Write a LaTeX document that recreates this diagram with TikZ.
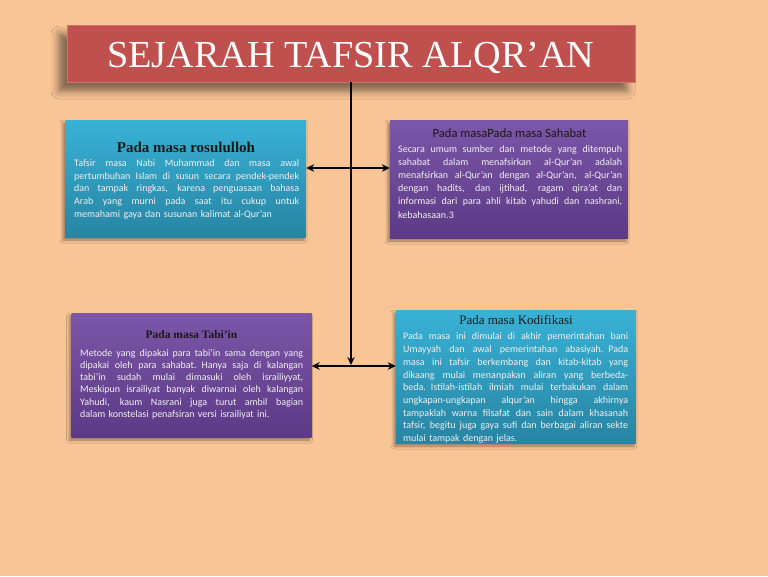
\documentclass[tikz,border=0pt]{standalone}
\usepackage{fontspec}
\setmainfont{Liberation Serif}
\newfontfamily\bodyfont{Carlito}
\usetikzlibrary{shadows.blur,arrows.meta}
\definecolor{bg}{RGB}{250,197,150}
\definecolor{titlered}{RGB}{192,80,77}
\definecolor{bluetop}{RGB}{56,178,214}
\definecolor{bluebot}{RGB}{40,132,163}
\definecolor{purptop}{RGB}{124,86,168}
\definecolor{purpbot}{RGB}{92,58,134}
\definecolor{headtxt}{RGB}{25,25,25}
\newcommand\jline[1]{\par\noindent\hbox to\hsize{\spaceskip=\fontdimen2\font plus 1fil minus \fontdimen4\font\relax #1}}
\newcommand\lastline[1]{\par\noindent\hbox{#1}}
\tikzset{
  panel/.style={draw=none, inner sep=0pt, anchor=center,
    blur shadow={shadow xshift=-2pt, shadow yshift=-3pt, shadow blur radius=3pt, shadow opacity=40}},
  bluepanel/.style={panel, top color=bluetop, bottom color=bluebot},
  purppanel/.style={panel, top color=purptop, bottom color=purpbot},
  titlebox/.style={fill=titlered, draw=titlered!80!white, line width=0.6pt, inner sep=0pt,
    minimum width=568pt, minimum height=57pt, text=white, font=\fontsize{38.2}{40}\selectfont,
    text height=27pt, text depth=0pt,
    blur shadow={shadow xshift=-8pt, shadow yshift=-9pt, shadow blur radius=8pt, shadow opacity=50}},
  headtext/.style={inner sep=0pt, text=headtxt, anchor=center},
  bodytext/.style={inner sep=0pt, text=white!94!black, anchor=north west},
  conn/.style={line width=2.4pt, black},
  tip/.style={-{Stealth[length=8pt,width=7.5pt]}},
  tips/.style={{Stealth[length=8pt,width=7.5pt]}-{Stealth[length=8pt,width=7.5pt]}}
}
\begin{document}
\begin{tikzpicture}[x=1pt,y=-1pt]
\fill[bg] (0,0) rectangle (768,576);
\useasboundingbox (0,0) rectangle (768,576);

% title
\node[titlebox] (title) at (351,53.5) {SEJARAH TAFSIR ALQR’AN};

% panels
\node[bluepanel, minimum width=241pt, minimum height=117pt] (b1) at (185.5,178.5) {};
\node[purppanel, minimum width=238pt, minimum height=118pt] (b2) at (509,179) {};
\node[purppanel, minimum width=240pt, minimum height=124pt] (b3) at (191.5,375) {};
\node[bluepanel, minimum width=240pt, minimum height=133pt] (b4) at (516,376.5) {};

% headings
\node[headtext, font=\fontsize{15}{17}\selectfont\bfseries] (h1) at (186,147) {Pada masa rosululloh};
\node[headtext, font=\bodyfont\fontsize{12.6}{14}\selectfont] (h2) at (509.5,133) {Pada masaPada masa Sahabat};
\node[headtext, font=\fontsize{11.5}{13}\selectfont\bfseries] (h3) at (191.5,335) {Pada masa Tabi’in};
\node[headtext, font=\fontsize{13}{15}\selectfont] (h4) at (516,320) {Pada masa Kodifikasi};

% bodies
\node[bodytext, text width=225pt, font=\bodyfont\fontsize{10}{12.7}\selectfont] (p1) at (74,153.5) {%
\jline{\strut Tafsir masa Nabi Muhammad dan masa awal}
\jline{pertumbuhan Islam di susun secara pendek-pendek}
\jline{dan tampak ringkas, karena penguasaan bahasa}
\jline{Arab yang murni pada saat itu cukup untuk}
\lastline{memahami gaya dan susunan kalimat al-Qur’an}};

\node[bodytext, text width=224pt, font=\bodyfont\fontsize{10}{13.2}\selectfont] (p2) at (398,138.7) {%
\jline{\strut Secara umum sumber dan metode yang ditempuh}
\jline{sahabat dalam menafsirkan al-Qur’an adalah}
\jline{menafsirkan al-Qur’an dengan al-Qur’an, al-Qur’an}
\jline{dengan hadits, dan ijtihad, ragam qira’at dan}
\jline{informasi dari para ahli kitab yahudi dan nashrani,}
\lastline{kebahasaan.3}};

\node[bodytext, text width=223pt, font=\bodyfont\fontsize{10}{12.3}\selectfont] (p3) at (80,343.5) {%
\jline{\strut Metode yang dipakai para tabi’in sama dengan yang}
\jline{dipakai oleh para sahabat. Hanya saja di kalangan}
\jline{tabi’in sudah mulai dimasuki oleh israiliyyat,}
\jline{Meskipun israiliyat banyak diwarnai oleh kalangan}
\jline{Yahudi, kaum Nasrani juga turut ambil bagian}
\lastline{dalam konstelasi penafsiran versi israiliyat ini.}};

\node[bodytext, text width=225pt, font=\bodyfont\fontsize{10}{12.7}\selectfont] (p4) at (403,327) {%
\jline{\strut Pada masa ini dimulai di akhir pemerintahan bani}
\jline{Umayyah dan awal pemerintahan abasiyah. Pada}
\jline{masa ini tafsir berkembang dan kitab-kitab yang}
\jline{dikaang mulai menanpakan aliran yang berbeda-}
\jline{beda. Istilah-istilah ilmiah mulai terbakukan dalam}
\jline{ungkapan-ungkapan alqur’an hingga akhirnya}
\jline{tampaklah warna filsafat dan sain dalam khasanah}
\jline{tafsir, begitu juga gaya sufi dan berbagai aliran sekte}
\lastline{mulai tampak dengan jelas.}};

% connectors
\coordinate (j1) at (351,168);
\coordinate (j2) at (351,366);
\draw[conn, tip, shorten >=1pt] (title.south -| j1) -- (j2);
\draw[conn, tips] (b1.east |- j1) -- (b2.west |- j1);
\draw[conn, tips] (b3.east |- j2) -- (b4.west |- j2);
\end{tikzpicture}
\end{document}
